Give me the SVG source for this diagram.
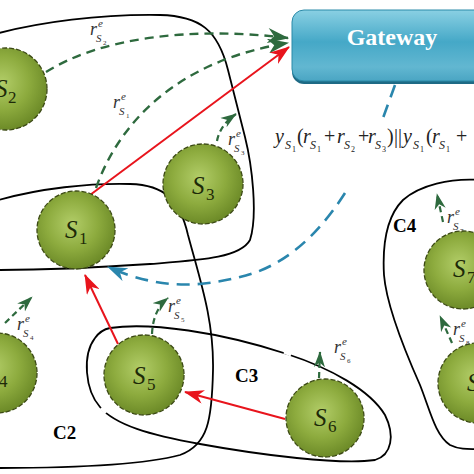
<svg xmlns="http://www.w3.org/2000/svg" width="474" height="474" viewBox="0 0 474 474">
<defs>
<radialGradient id="ball" cx="45%" cy="42%" r="60%">
<stop offset="0" stop-color="#b2cd68"/>
<stop offset="0.55" stop-color="#8dab3e"/>
<stop offset="1" stop-color="#6a8826"/>
</radialGradient>
<linearGradient id="gw" x1="0" y1="0" x2="0" y2="1">
<stop offset="0" stop-color="#8ad0e3"/>
<stop offset="0.45" stop-color="#45a8c7"/>
<stop offset="0.8" stop-color="#62b7d1"/>
<stop offset="1" stop-color="#4aa5c3"/>
</linearGradient>
<marker id="ag" markerUnits="userSpaceOnUse" viewBox="0 0 20 14" refX="19" refY="7" markerWidth="22" markerHeight="15" orient="auto">
<path d="M0,0 L20,7 L0,14 L6,7 Z" fill="#2e6a3e"/>
</marker>
<marker id="as" markerUnits="userSpaceOnUse" viewBox="0 0 20 14" refX="19" refY="7" markerWidth="16" markerHeight="12" orient="auto">
<path d="M0,0 L20,7 L0,14 L6,7 Z" fill="#2e6a3e"/>
</marker>
<marker id="ar" markerUnits="userSpaceOnUse" viewBox="0 0 20 14" refX="19" refY="7" markerWidth="20" markerHeight="14" orient="auto">
<path d="M0,0 L20,7 L0,14 L6,7 Z" fill="#e8141c"/>
</marker>
<marker id="ab" markerUnits="userSpaceOnUse" viewBox="0 0 20 14" refX="19" refY="7" markerWidth="20" markerHeight="14" orient="auto">
<path d="M0,0 L20,7 L0,14 L6,7 Z" fill="#2a86ad"/>
</marker>
</defs>
<style>
text{font-family:"Liberation Serif","Times New Roman",Times,serif}
.cl{fill:none;stroke:#000;stroke-width:1.8}
.ball{fill:url(#ball);stroke:#3c4a14;stroke-width:1.3;stroke-dasharray:5 2}
.sn{font-style:italic;font-size:25px;fill:#1e2a08}
.sd{font-size:17px;fill:#1e2a08}
.lab{font-weight:bold;font-size:19px;fill:#000}
.gd{fill:none;stroke:#2e6a3e;stroke-width:2.4;stroke-dasharray:9 6}
.gs{fill:none;stroke:#2e6a3e;stroke-width:2.2;stroke-dasharray:6 4}
.red{fill:none;stroke:#e8141c;stroke-width:2}
.blue{fill:none;stroke:#2a86ad;stroke-width:2.6;stroke-dasharray:13 8}
.r{font-style:italic;font-size:18px;fill:#333}
.e{font-style:italic;font-size:11px;fill:#333}
.s{font-style:italic;font-size:11px;fill:#333}
.d{font-size:7px;fill:#333}
.f{font-size:20px;fill:#222}
.fi{font-style:italic}
.fs{font-style:italic;font-size:12px}
.fd{font-size:8px}
</style>

<g id="clusters">
<path id="C1" class="cl" d="M-5,34 C40,22 100,14 160,15 C200,16 218,30 228,70 L245,137 C252,165 258,215 250,240 C240,258 200,260 150,264 C90,268 40,270 -5,270"/>
<path id="C2" class="cl" d="M-5,201 C40,188 90,183 130,184 C165,185 180,200 188,235 C200,280 214,320 213,370 C212,420 208,445 180,455 C140,466 60,468 -5,468"/>
<path id="C3" class="cl" d="M110,328 C150,322 220,332 287,354 C330,368 370,390 385,415 C395,435 392,455 375,460 C340,465 260,455 200,444 C150,435 115,425 100,407 C85,390 82,355 95,338 C100,331 105,329 110,328 Z"/>
<path id="C4" class="cl" d="M480,180 C450,178 420,185 403,200 C388,215 382,240 384,275 C386,300 400,340 420,385 C430,410 435,435 450,445 C460,450 470,449 480,449"/>
<line x1="284" y1="352" x2="291" y2="355" stroke="#fff" stroke-width="3"/>
<line x1="101" y1="408" x2="106" y2="413" stroke="#fff" stroke-width="3"/>
<text class="lab" x="53" y="439">C2</text>
<text class="lab" x="235" y="382">C3</text>
<text class="lab" x="393" y="232">C4</text>
</g>

<g id="gateway">
<rect x="292" y="12" width="200" height="72" rx="12" fill="#1e6a85"/>
<rect x="292" y="10" width="200" height="71" rx="12" fill="url(#gw)" stroke="#2b8aa8" stroke-width="1"/>
<text x="392" y="45" text-anchor="middle" font-weight="bold" font-size="24" fill="#fff">Gateway</text>
</g>

<g id="connectors">
<path class="gd" d="M46,72 C100,38 190,26 288,38" marker-end="url(#ag)"/>
<path class="gd" d="M96,188 C120,120 180,60 288,43" marker-end="url(#ag)"/>
<path class="red" d="M90,195 L289,47" marker-end="url(#ar)"/>
<path class="red" d="M118,344 L85,275" marker-end="url(#ar)"/>
<path class="red" d="M285,419 L185,392" marker-end="url(#ar)"/>
<path class="blue" d="M395,85 L383,118"/>
<path class="blue" d="M345,193 C315,240 280,268 240,277 C200,287 160,290 108,267" marker-end="url(#ab)"/>
<path class="gs" d="M217,141 Q220,125 236,114" marker-end="url(#as)"/>
<path class="gs" d="M5,323 L32,297" marker-end="url(#as)"/>
<path class="gs" d="M152,334 Q153,310 168,298" marker-end="url(#as)"/>
<path class="gs" d="M319,378 L320,352" marker-end="url(#as)"/>
<path class="gs" d="M443,222 L437,194" marker-end="url(#as)"/>
<path class="gs" d="M452,343 L440,316" marker-end="url(#as)"/>
</g>

<g id="S2"><circle class="ball" cx="6" cy="89" r="41"/><text class="sn" x="-5" y="97">S</text><text class="sd" x="8" y="103">2</text></g>
<g id="S1"><circle class="ball" cx="76" cy="230" r="39"/><text class="sn" x="65" y="238">S</text><text class="sd" x="79" y="244">1</text></g>
<g id="S3"><circle class="ball" cx="203" cy="184" r="40"/><text class="sn" x="192" y="194">S</text><text class="sd" x="206" y="200">3</text></g>
<g id="S4"><circle class="ball" cx="-3" cy="373" r="40"/><text class="sn" x="-14" y="381">S</text><text class="sd" x="-1" y="387">4</text></g>
<g id="S5"><circle class="ball" cx="144" cy="375" r="40"/><text class="sn" x="133" y="384">S</text><text class="sd" x="147" y="390">5</text></g>
<g id="S6"><circle class="ball" cx="325" cy="418" r="39"/><text class="sn" x="314" y="426">S</text><text class="sd" x="328" y="432">6</text></g>
<g id="S7"><circle class="ball" cx="463" cy="270" r="39"/><text class="sn" x="453" y="277">S</text><text class="sd" x="467" y="283">7</text></g>
<g id="S8"><circle class="ball" cx="478" cy="383" r="40"/><text class="sn" x="467" y="391">S</text><text class="sd" x="481" y="397">8</text></g>

<g id="rates">
<text class="r" x="90" y="35">r</text><text class="e" x="98" y="27">e</text><text class="s" x="96" y="42">S</text><text class="d" x="103" y="45">2</text>
<text class="r" x="113" y="108">r</text><text class="e" x="121" y="100">e</text><text class="s" x="119" y="115">S</text><text class="d" x="126" y="118">1</text>
<text class="r" x="228" y="145">r</text><text class="e" x="236" y="137">e</text><text class="s" x="234" y="152">S</text><text class="d" x="241" y="155">3</text>
<text class="r" x="17" y="330">r</text><text class="e" x="25" y="322">e</text><text class="s" x="23" y="337">S</text><text class="d" x="30" y="340">4</text>
<text class="r" x="168" y="312">r</text><text class="e" x="176" y="304">e</text><text class="s" x="174" y="319">S</text><text class="d" x="181" y="322">5</text>
<text class="r" x="334" y="353">r</text><text class="e" x="342" y="345">e</text><text class="s" x="340" y="360">S</text><text class="d" x="347" y="363">6</text>
<text class="r" x="447" y="223">r</text><text class="e" x="455" y="215">e</text><text class="s" x="453" y="230">S</text><text class="d" x="460" y="233">7</text>
<text class="r" x="453" y="335">r</text><text class="e" x="461" y="327">e</text><text class="s" x="459" y="342">S</text><text class="d" x="466" y="345">8</text>
</g>

<g id="formula">
<text class="f"><tspan class="fi" x="275" y="143">y</tspan><tspan class="fs" x="285" y="149">S</tspan><tspan class="fd" x="292" y="152">1</tspan><tspan x="297" y="143">(</tspan><tspan class="fi" x="303" y="143">r</tspan><tspan class="fs" x="310" y="149">S</tspan><tspan class="fd" x="317" y="152">1</tspan><tspan x="324" y="143">+</tspan><tspan class="fi" x="337" y="143">r</tspan><tspan class="fs" x="344" y="149">S</tspan><tspan class="fd" x="351" y="152">2</tspan><tspan x="358" y="143">+</tspan><tspan class="fi" x="368" y="143">r</tspan><tspan class="fs" x="375" y="149">S</tspan><tspan class="fd" x="382" y="152">3</tspan><tspan x="387" y="143">)</tspan><tspan x="394" y="143">||</tspan><tspan class="fi" x="403" y="143">y</tspan><tspan class="fs" x="413" y="149">S</tspan><tspan class="fd" x="420" y="152">1</tspan><tspan x="426" y="143">(</tspan><tspan class="fi" x="432" y="143">r</tspan><tspan class="fs" x="439" y="149">S</tspan><tspan class="fd" x="446" y="152">1</tspan><tspan x="456" y="143">+</tspan></text>
</g>
</svg>
